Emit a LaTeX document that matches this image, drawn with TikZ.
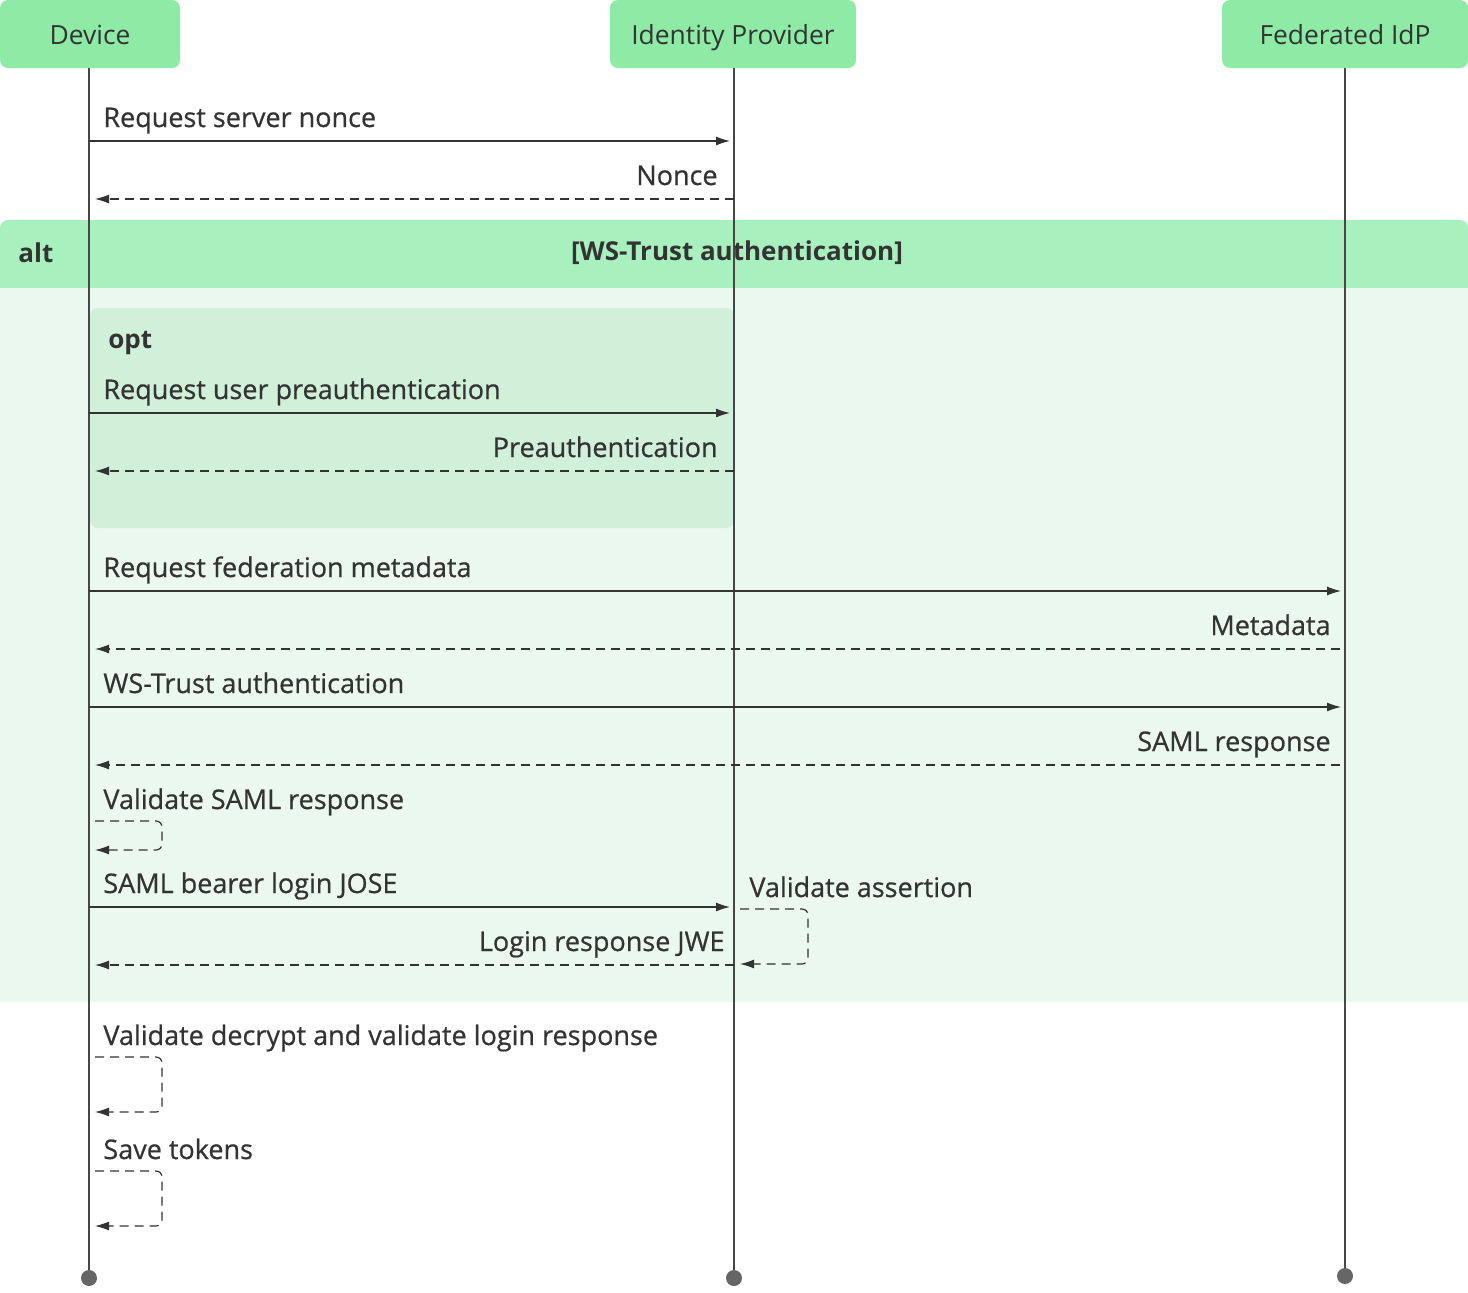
\documentclass[tikz,border=0pt]{standalone}
\usepackage{fontspec}
\setmainfont{Open Sans}
\newfontfamily\medfont[FakeBold=0.6]{Open Sans}
\usetikzlibrary{arrows.meta}
\definecolor{hdr}{HTML}{8EEBA5}
\definecolor{altb}{HTML}{A8F0BE}
\definecolor{altbody}{HTML}{EBF8EF}
\definecolor{optb}{HTML}{D1F0DA}
\definecolor{ln}{HTML}{333333}
\tikzset{
 part/.style={fill=hdr,rounded corners=4pt,draw=none},
 ptxt/.style={font=\fontsize{13.2}{15}\selectfont,text=ln,anchor=base},
 lbl/.style={font=\fontsize{13.5}{15}\medfont,text=ln,inner sep=0pt},
 blbl/.style={font=\fontsize{13}{15}\selectfont\bfseries,text=ln,inner sep=0pt},
 msg/.style={draw=ln,line width=0.6pt,-{Latex[length=7pt,width=4.5pt]}},
 ret/.style={msg,dash pattern=on 4.5pt off 3pt},
 selfm/.style={ret,rounded corners=3pt},
 life/.style={draw=ln!90,line width=0.6pt},
 endd/.style={circle,fill=ln!75,inner sep=0pt,minimum size=8pt}
}
\begin{document}
\begin{tikzpicture}[x=0.5pt,y=-0.5pt]
\useasboundingbox (0,0) rectangle (1468,1292);
% backgrounds
\fill[altb,rounded corners=4pt] (0,220) rectangle (1468,300);
\fill[altbody] (0,288) rectangle (1468,1002);
\fill[optb,rounded corners=4pt] (90,308) rectangle (734,528);
\node[blbl,anchor=west] (alt) at (18,253) {alt};
\node[blbl] (altc) at (737,253) {[WS-Trust authentication]};
\node[blbl,anchor=west] (opt) at (108,343) {opt};
% participants
\fill[part] (0,0) rectangle (180,68);
\fill[part] (610,0) rectangle (856,68);
\fill[part] (1222,0) rectangle (1468,68);
\node[ptxt] (dev) at (90,44) {Device};
\node[ptxt] (idp) at (733,44) {Identity Provider};
\node[ptxt] (fed) at (1345,44) {Federated IdP};
% lifelines
\coordinate (d0) at (89,68); \coordinate (d1) at (89,1278);
\coordinate (i0) at (734,68); \coordinate (i1) at (734,1278);
\coordinate (f0) at (1345,68); \coordinate (f1) at (1345,1276);
\draw[life] (d0) -- (d1); \draw[life] (i0) -- (i1); \draw[life] (f0) -- (f1);
\node[endd] (de) at (d1) {}; \node[endd] (ie) at (i1) {}; \node[endd] (fe) at (f1) {};
% messages
\newcommand{\fwd}[4]{\draw[msg] (89,#1) -- (#2,#1); \node[lbl,anchor=base west] (#4) at (103,#1-14) {#3};}
\newcommand{\bck}[5]{\draw[ret] (#2,#1) -- (95,#1); \node[lbl,anchor=base east] (#5) at (#3,#1-14) {#4};}
\fwd{141}{730}{Request server nonce}{m1}
\bck{199}{734}{718}{Nonce}{m2}
\fwd{413}{730}{Request user preauthentication}{m3}
\bck{471}{734}{718}{Preauthentication}{m4}
\fwd{591}{1341}{Request federation metadata}{m5}
\bck{649}{1340}{1331}{Metadata}{m6}
\fwd{707}{1341}{WS-Trust authentication}{m7}
\bck{765}{1340}{1331}{SAML response}{m8}
\node[lbl,anchor=base west] (s1) at (103,809) {Validate SAML response};
\draw[selfm] (95,821) -- (162,821) -- (162,850) -- (95,850);
\fwd{907}{730}{SAML bearer login JOSE}{m9}
\node[lbl,anchor=base west] (s2) at (749,897) {Validate assertion};
\draw[selfm] (740,909) -- (808,909) -- (808,964) -- (740,964);
\bck{965}{734}{725}{Login response JWE}{m10}
\node[lbl,anchor=base west] (s3) at (103,1045) {Validate decrypt and validate login response};
\draw[selfm] (95,1057) -- (162,1057) -- (162,1112) -- (95,1112);
\node[lbl,anchor=base west] (s4) at (103,1159) {Save tokens};
\draw[selfm] (95,1171) -- (162,1171) -- (162,1226) -- (95,1226);
\end{tikzpicture}
\end{document}
